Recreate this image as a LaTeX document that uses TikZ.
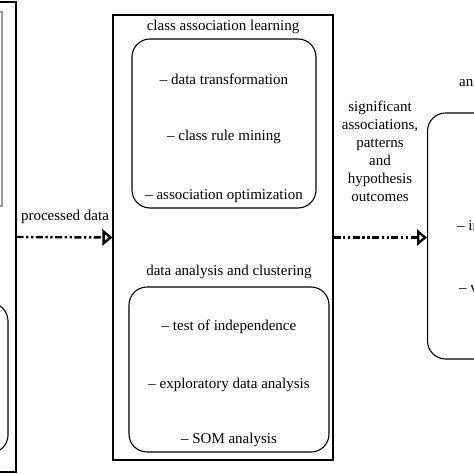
\documentclass[tikz,border=0pt]{standalone}
\usepackage{fontspec}
\setmainfont{Liberation Serif}
\usetikzlibrary{arrows.meta}
\begin{document}
\begin{tikzpicture}[x=1pt,y=-1pt,
  every node/.style={font=\fontsize{15}{18}\selectfont, inner sep=0pt},
  frame/.style={draw, line width=1.1pt, rectangle},
  roundbox/.style={draw, line width=1.1pt, rectangle, rounded corners=18pt},
  graybox/.style={draw=gray!80, line width=1.4pt, rectangle},
  flow/.style={line width=2.4pt, dash pattern=on 7pt off 2.5pt on 2.4pt off 2.5pt on 2.4pt off 2.5pt,
    -{Triangle[open, fill=white, length=10pt, width=16pt, line width=2.4pt]}},
  txt/.style={align=center}
]
\clip (0,0) rectangle (474,474);
\useasboundingbox (0,0) rectangle (474,474);
% left partial box
\node[frame, minimum width=40pt, minimum height=470pt] (leftbox) at (-4,237) {};
\node[graybox, minimum width=40pt, minimum height=194pt] (grayrect) at (-18,109) {};
\node[roundbox, minimum width=60pt, minimum height=150pt] (leftround) at (-22,378) {};
% middle box
\node[frame, minimum width=220pt, minimum height=445pt] (midbox) at (223,237.5) {};
\node (t1) at (223,27) {class association learning};
\node[roundbox, minimum width=184pt, minimum height=169pt] (r1) at (224,123.5) {};
\node (a1) at (224,79) {-- data transformation};
\node (a2) at (224,137) {-- class rule mining};
\node (a3) at (224,196) {-- association optimization};
\node (t2) at (229,272) {data analysis and clustering};
\node[roundbox, minimum width=200pt, minimum height=165pt] (r2) at (229,369.5) {};
\node (b1) at (229,327) {-- test of independence};
\node (b2) at (229,385) {-- exploratory data analysis};
\node (b3) at (229,440) {-- SOM analysis};
% right partial box
\node[roundbox, minimum width=100pt, minimum height=246pt, anchor=west] (rightbox) at (427,236) {};
\node[anchor=west] (t3) at (459,83) {analysis};
\node[anchor=west] (c1) at (457,227) {-- interpretation};
\node[anchor=west] (c2) at (459,287) {-- validation};
% arrows
\draw[flow] (leftbox.east) -- (midbox.west);
\node (l1) at (65,217) {processed data};
\draw[flow] (midbox.east) -- (rightbox.west |- midbox.east);
\node[txt] (l2) at (380,151) {significant\\associations,\\patterns\\and\\hypothesis\\outcomes};
\end{tikzpicture}
\end{document}
